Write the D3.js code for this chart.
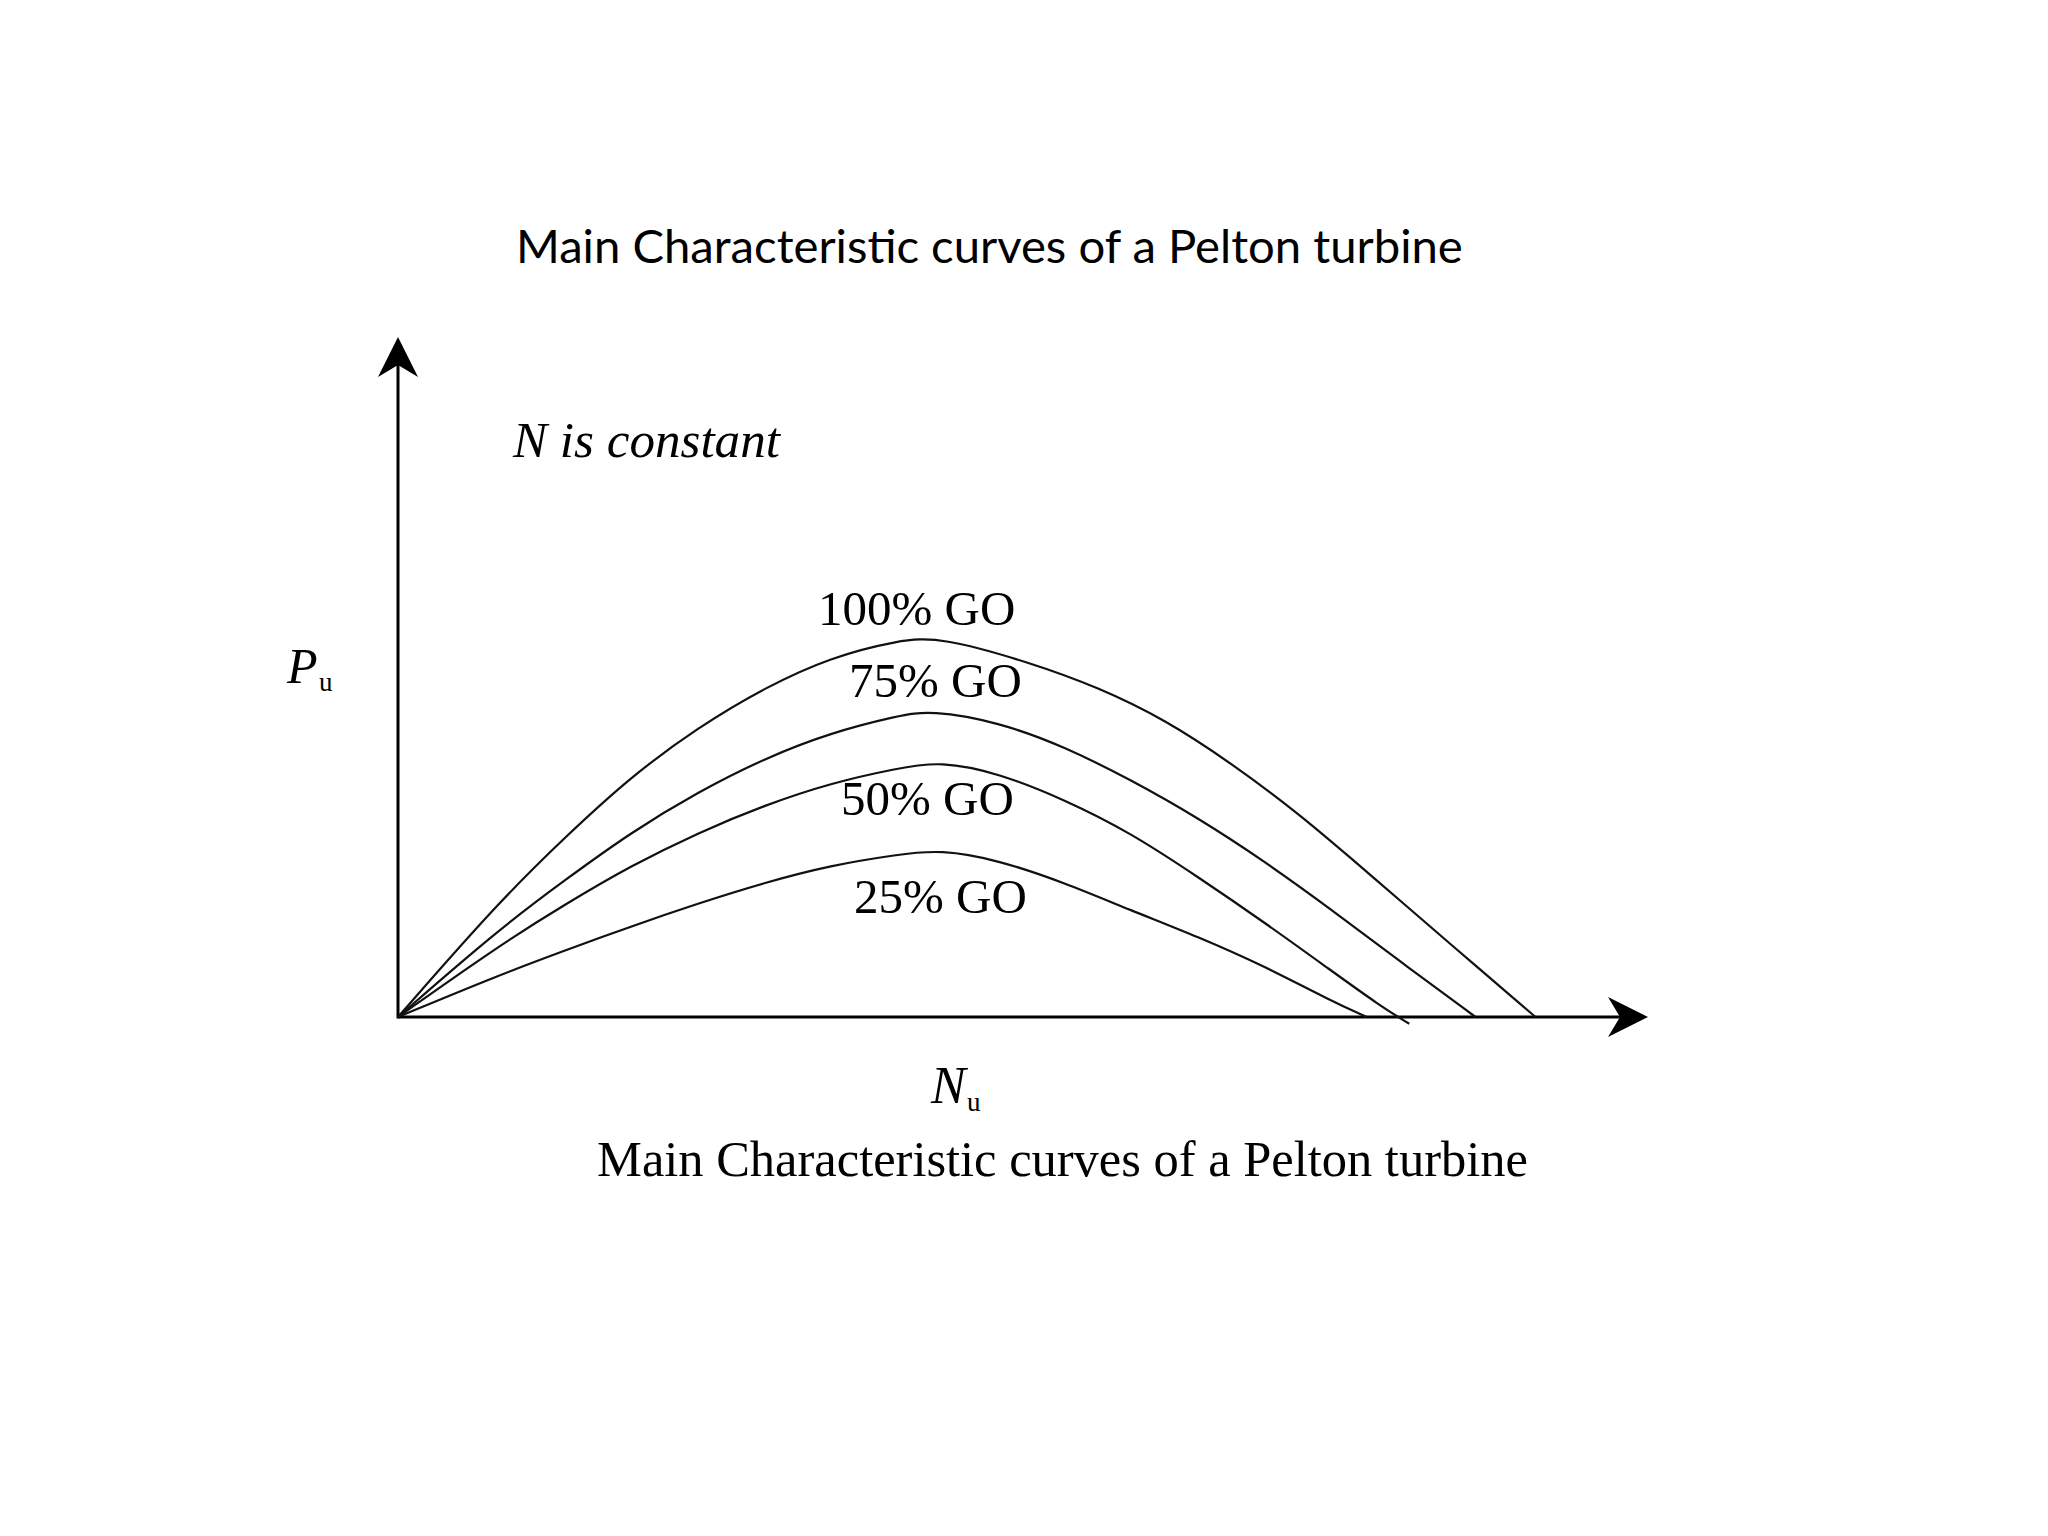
<!DOCTYPE html>
<html>
<head>
<meta charset="utf-8">
<script src="https://cdn.jsdelivr.net/npm/d3@7"></script>
<style>
  html, body { margin: 0; padding: 0; background: #ffffff; }
  svg { display: block; }
</style>
</head>
<body>
<svg id="chart" width="2048" height="1536"></svg>
<script>
// ---------------- DATA ----------------
const titleText = "Main Characteristic curves of a Pelton turbine";
const captionText = "Main Characteristic curves of a Pelton turbine";
const noteText = "N is constant";
const seriesNames = ["100% GO", "75% GO", "50% GO", "25% GO"];

// Nu (horizontal, 0..100 = axis length) and Pu (vertical, 0..100 = axis length)
const nu100 = [0, 8.0, 13.4, 18.6, 24.0, 29.4, 34.6, 40.0, 43.4, 50.6, 56.0, 61.4, 66.6, 72.0, 76.2, 80.0, 84.2, 91.0];
const pu100 = [0, 16.8, 26.5, 35.3, 42.6, 48.5, 52.9, 55.4, 55.9, 52.1, 48.5, 43.7, 37.4, 30.0, 23.4, 17.4, 10.7, 0];

const nu75 = [0, 8.0, 13.4, 18.6, 24.0, 29.4, 34.6, 40.0, 42.6, 48.0, 53.4, 58.6, 64.0, 69.4, 74.6, 80.0, 86.2];
const pu75 = [0, 12.8, 20.2, 27.1, 33.1, 38.1, 41.8, 44.3, 45.1, 43.4, 39.7, 34.9, 29.3, 22.8, 15.9, 8.4, 0];

const nu50 = [0, 8.0, 13.4, 18.6, 24.0, 29.4, 34.6, 40.0, 43.4, 48.0, 53.4, 58.6, 64.0, 69.4, 74.6, 78.6, 80.9];
const pu50 = [0, 10.4, 16.6, 22.2, 27.1, 31.2, 34.4, 36.6, 37.6, 35.9, 31.9, 27.1, 20.6, 13.8, 6.9, 1.6, -1.0];

const nu25 = [0, 8.0, 13.4, 18.6, 24.0, 29.4, 34.6, 40.0, 43.4, 48.0, 53.4, 58.6, 64.0, 69.4, 74.6, 77.5];
const pu25 = [0, 6.1, 9.8, 13.3, 16.7, 19.8, 22.3, 23.9, 24.6, 23.1, 19.7, 15.7, 11.8, 7.4, 2.4, 0];

// ---------------- LAYOUT ----------------
const svg = d3.select("#chart");
const x = d3.scaleLinear().domain([0, 100]).range([398, 1648]);
const y = d3.scaleLinear().domain([0, 100]).range([1017, 337]);

const serif = "'Liberation Serif', 'Times New Roman', 'DejaVu Serif', serif";
const sans = "Lato, 'Open Sans', 'Liberation Sans', sans-serif";

svg.append("rect").attr("width", 2048).attr("height", 1536).attr("fill", "#ffffff");

function fitWidth(sel, target) {
  const w = sel.node().getComputedTextLength();
  const fs = parseFloat(sel.attr("font-size"));
  sel.attr("font-size", fs * target / w);
}

// Title
const title = svg.append("text")
  .attr("x", 516).attr("y", 263)
  .attr("font-family", sans).attr("font-size", 46)
  .attr("fill", "#000").text(titleText);
fitWidth(title, 947);

// Axes
const axisColor = "#000";
const arrowLen = 40, arrowHalf = 20, notch = 28;
const arrowPath = `M0,0 L${-arrowLen},${-arrowHalf} L${-notch},0 L${-arrowLen},${arrowHalf} Z`;

// x axis line
svg.append("line")
  .attr("x1", x(0)).attr("y1", y(0))
  .attr("x2", x(100) - notch).attr("y2", y(0))
  .attr("stroke", axisColor).attr("stroke-width", 3);
svg.append("path")
  .attr("d", arrowPath)
  .attr("transform", `translate(${x(100)},${y(0)})`)
  .attr("fill", axisColor);

// y axis line
svg.append("line")
  .attr("x1", x(0)).attr("y1", y(0) + 1.5)
  .attr("x2", x(0)).attr("y2", y(100) + notch)
  .attr("stroke", axisColor).attr("stroke-width", 3);
svg.append("path")
  .attr("d", arrowPath)
  .attr("transform", `translate(${x(0)},${y(100)}) rotate(-90)`)
  .attr("fill", axisColor);

// Curves
const line = d3.line()
  .x(d => x(d[0]))
  .y(d => y(d[1]))
  .curve(d3.curveBasis);

const series = [
  d3.zip(nu100, pu100),
  d3.zip(nu75, pu75),
  d3.zip(nu50, pu50),
  d3.zip(nu25, pu25)
];

svg.append("g").selectAll("path")
  .data(series)
  .join("path")
  .attr("d", line)
  .attr("fill", "none")
  .attr("stroke", "#111")
  .attr("stroke-width", 2.2)
  .attr("stroke-linejoin", "round");

// Curve labels
const labelPos = [[818, 625], [849, 697], [841, 815], [854, 913]];
svg.append("g").selectAll("text")
  .data(seriesNames)
  .join("text")
  .attr("x", (d, i) => labelPos[i][0])
  .attr("y", (d, i) => labelPos[i][1])
  .attr("font-family", serif)
  .attr("font-size", 49)
  .attr("fill", "#000")
  .text(d => d);

// "N is constant"
const note = svg.append("text")
  .attr("x", 513).attr("y", 457)
  .attr("font-family", serif).attr("font-style", "italic")
  .attr("font-size", 50).attr("fill", "#000")
  .text(noteText);
fitWidth(note, 267);

// Pu label
const pu = svg.append("text")
  .attr("x", 287).attr("y", 683)
  .attr("font-family", serif).attr("font-style", "italic")
  .attr("font-size", 50).attr("fill", "#000");
pu.append("tspan").text("P");
pu.append("tspan").attr("x", 319).attr("y", 691).attr("font-size", 27).attr("font-style", "normal").text("u");

// Nu label
const nuL = svg.append("text")
  .attr("x", 931).attr("y", 1103)
  .attr("font-family", serif).attr("font-style", "italic")
  .attr("font-size", 52).attr("fill", "#000");
nuL.append("tspan").text("N");
nuL.append("tspan").attr("x", 967).attr("y", 1111).attr("font-size", 27).attr("font-style", "normal").text("u");

// Caption
const caption = svg.append("text")
  .attr("x", 597).attr("y", 1176)
  .attr("font-family", serif)
  .attr("font-size", 44).attr("fill", "#000")
  .text(captionText);
fitWidth(caption, 931);
</script>
</body>
</html>
